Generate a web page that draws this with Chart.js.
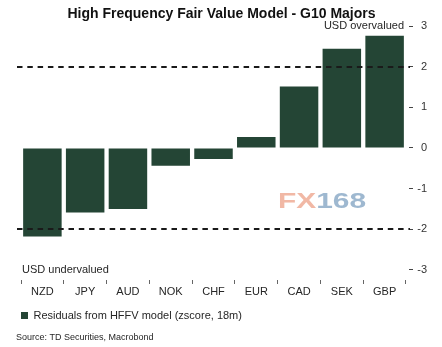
<!DOCTYPE html>
<html>
<head>
<meta charset="utf-8">
<script src="https://cdn.jsdelivr.net/npm/chart.js@4"></script>
<style>
  html, body { margin: 0; padding: 0; background: #ffffff; }
  canvas { display: block; }
</style>
</head>
<body>
<canvas id="chart" width="442" height="347"></canvas>
<script>
// G10 currencies, ordered from most undervalued to most overvalued vs USD
const categories = ['NZD', 'JPY', 'AUD', 'NOK', 'CHF', 'EUR', 'CAD', 'SEK', 'GBP'];
// Residuals from the HFFV model (z-score, 18m window)
const residuals = [-2.18, -1.59, -1.50, -0.44, -0.27, 0.27, 1.51, 2.44, 2.76];
// Right-hand axis tick values
const yTicks = [-3, -2, -1, 0, 1, 2, 3];
// +/- 2 sigma reference lines
const thresholds = [2, -2];

const FONT = "Arial, 'Liberation Sans', sans-serif";
const TEXT = '#262626';
const BAR = '#244535';

// Dashed threshold lines, side notes and the FX168 mark
const overlay = {
  id: 'overlay',
  afterDatasetsDraw(chart) {
    const { ctx, chartArea } = chart;
    const y = chart.scales.y;
    ctx.save();
    ctx.strokeStyle = '#1a1a1a';
    ctx.lineWidth = 2;
    ctx.setLineDash([5.5, 4.8]);
    thresholds.forEach(v => {
      const py = Math.round(y.getPixelForValue(v));
      ctx.beginPath();
      ctx.moveTo(chartArea.left - 4, py);
      ctx.lineTo(chartArea.right + 4, py);
      ctx.stroke();
    });
    ctx.restore();

    ctx.save();
    ctx.font = '11px ' + FONT;
    ctx.fillStyle = TEXT;
    ctx.textBaseline = 'middle';
    ctx.textAlign = 'right';
    ctx.fillText('USD overvalued', chartArea.right - 2, y.getPixelForValue(3));
    ctx.textAlign = 'left';
    ctx.fillText('USD undervalued', chartArea.left + 1, y.getPixelForValue(-3));
    ctx.restore();

    // watermark
    ctx.save();
    ctx.translate(278, 208);
    ctx.scale(1.36, 1);
    ctx.font = 'bold 22px ' + FONT;
    ctx.textBaseline = 'alphabetic';
    ctx.textAlign = 'left';
    ctx.fillStyle = 'rgba(236,160,135,0.75)';
    ctx.fillText('FX', 0, 0);
    const w = ctx.measureText('FX').width;
    ctx.fillStyle = 'rgba(125,160,192,0.75)';
    ctx.fillText('168', w, 0);
    ctx.restore();
  }
};

new Chart(document.getElementById('chart'), {
  type: 'bar',
  data: {
    labels: categories,
    datasets: [{
      label: 'Residuals from HFFV model (zscore, 18m)',
      data: residuals,
      backgroundColor: BAR,
      borderWidth: 0,
      barPercentage: 0.9,
      categoryPercentage: 1.0,
      yAxisID: 'y'
    }]
  },
  options: {
    responsive: false,
    animation: false,
    devicePixelRatio: 1,
    layout: { padding: { left: 16, right: 15, top: 0, bottom: 0 } },
    scales: {
      x: {
        offset: true,
        grid: {
          offset: true,
          drawOnChartArea: false,
          drawTicks: true,
          tickLength: 4,
          tickColor: ctx => (ctx.index >= categories.length ? 'rgba(0,0,0,0)' : '#666'),
          tickWidth: 1
        },
        border: { display: false },
        ticks: {
          color: TEXT,
          font: { family: FONT, size: 11 },
          padding: 1,
          maxRotation: 0,
          autoSkip: false
        },
        afterFit(scale) { scale.height = 25; }
      },
      yPad: {
        position: 'left',
        display: true,
        grid: { display: false },
        border: { display: false },
        ticks: { display: false },
        afterFit(scale) { scale.width = 5; }
      },
      y: {
        position: 'right',
        min: -3.25,
        max: 3,
        afterBuildTicks(scale) { scale.ticks = yTicks.map(v => ({ value: v })); },
        grid: {
          drawOnChartArea: false,
          drawTicks: true,
          tickLength: 7,
          tickColor: '#444',
          tickWidth: 1,
          tickBorderDash: [0, 3, 4, 20]
        },
        border: { display: false },
        ticks: {
          color: '#333',
          font: { family: FONT, size: 11 },
          padding: 4,
          crossAlign: 'far'
        },
        afterFit(scale) { scale.width = 21; }
      }
    },
    plugins: {
      title: {
        display: true,
        text: 'High Frequency Fair Value Model - G10 Majors',
        color: '#111',
        font: { family: FONT, size: 14, weight: 'bold' },
        padding: { top: 5.4, bottom: 3.8 }
      },
      legend: {
        display: true,
        position: 'bottom',
        align: 'start',
        labels: {
          color: TEXT,
          font: { family: FONT, size: 11 },
          boxWidth: 7,
          boxHeight: 7,
          padding: 5
        }
      },
      subtitle: {
        display: true,
        position: 'bottom',
        align: 'start',
        text: 'Source: TD Securities, Macrobond',
        color: TEXT,
        font: { family: FONT, size: 9 },
        padding: { top: 1.6, bottom: 3.6 }
      },
      tooltip: { enabled: false }
    }
  },
  plugins: [overlay]
});
</script>
</body>
</html>
